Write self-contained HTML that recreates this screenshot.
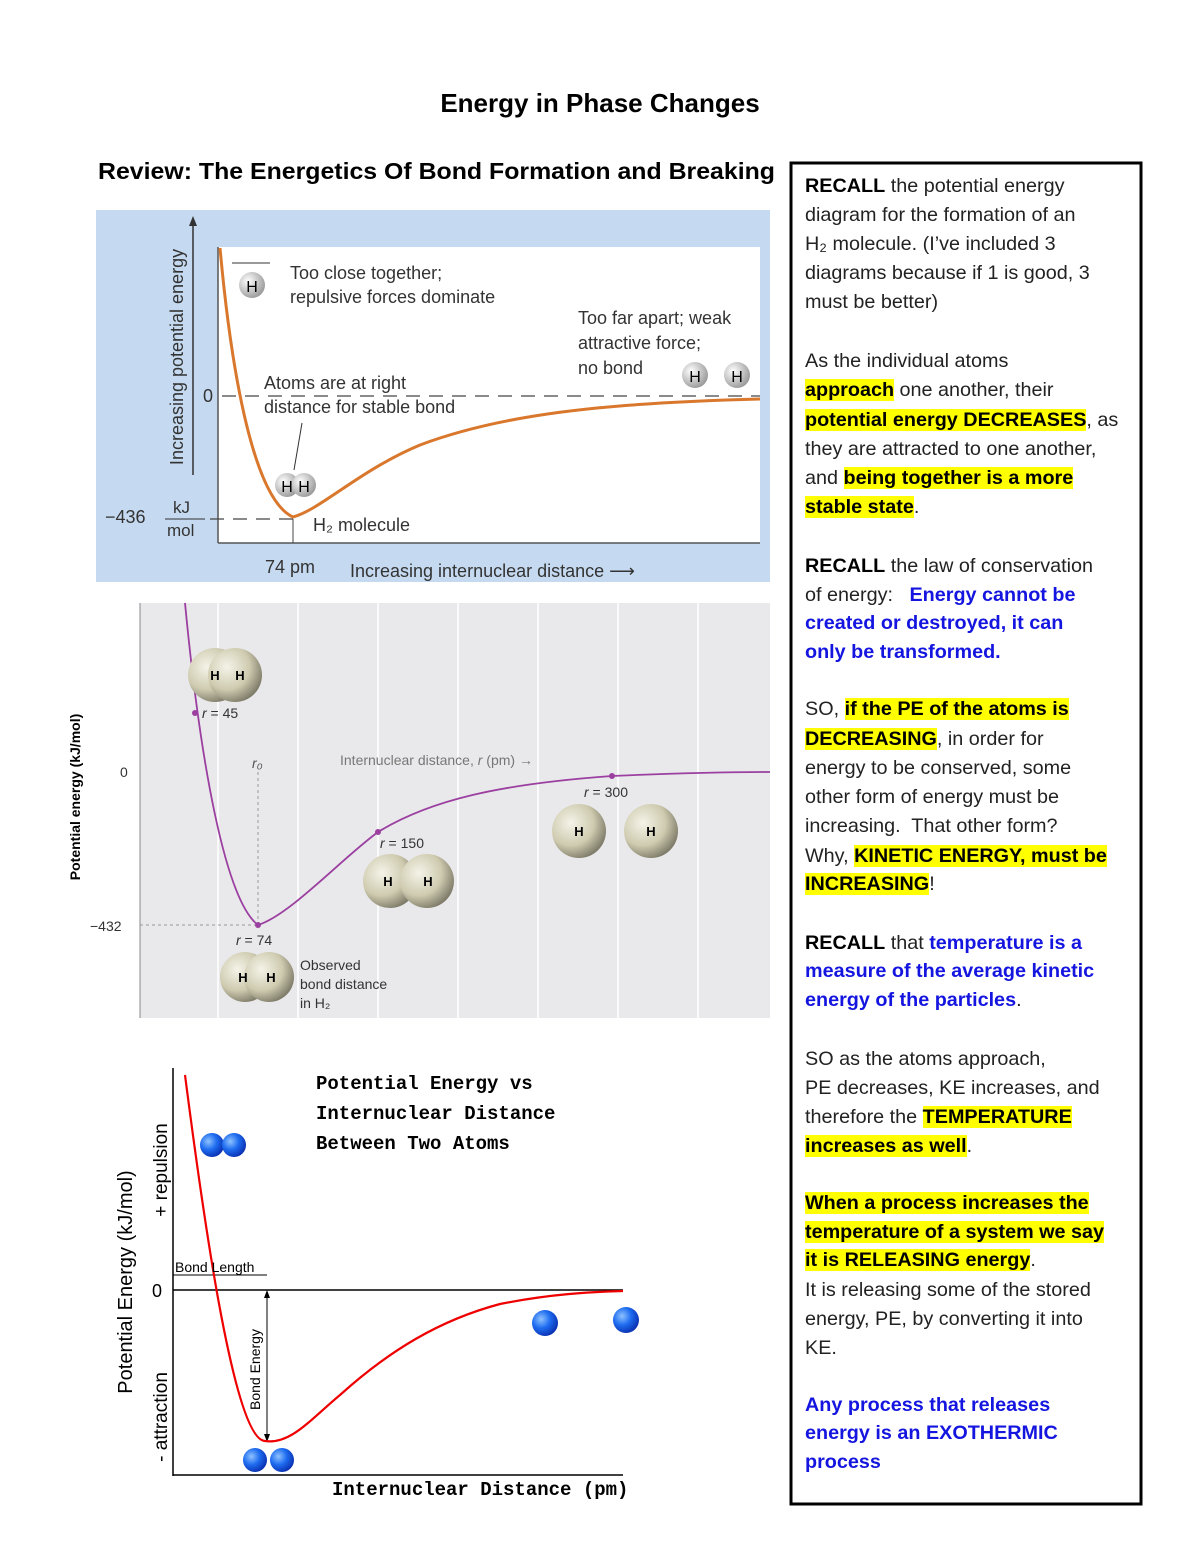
<!DOCTYPE html>
<html><head><meta charset="utf-8"><style>
body{margin:0;width:1200px;height:1553px;background:#fff;position:relative;font-family:"Liberation Sans",sans-serif;overflow:hidden}
.t{position:absolute;left:805px;white-space:nowrap;font-size:19.8px;line-height:24px;color:#222}
.h{background:#ffff00;font-weight:bold;color:#000}
.b{color:#1515e0;font-weight:bold}
.k{font-weight:bold;color:#000}
svg{position:absolute;left:0;top:0}
</style></head><body>
<svg width="1200" height="1553" viewBox="0 0 1200 1553" font-family="Liberation Sans, sans-serif">
<defs>
<radialGradient id="g1" cx="35%" cy="35%" r="70%"><stop offset="0" stop-color="#f4f3e8"/><stop offset="0.6" stop-color="#cfcbb0"/><stop offset="1" stop-color="#7d7a68"/></radialGradient>
<radialGradient id="g2" cx="35%" cy="35%" r="70%"><stop offset="0" stop-color="#8fc3ff"/><stop offset="0.5" stop-color="#1e6cf0"/><stop offset="1" stop-color="#0a2fb0"/></radialGradient>
<radialGradient id="g3" cx="35%" cy="35%" r="70%"><stop offset="0" stop-color="#fff"/><stop offset="1" stop-color="#999"/></radialGradient>
</defs>
<text x="600" y="112" text-anchor="middle" font-size="26" font-weight="bold">Energy in Phase Changes</text>
<text x="98" y="179" font-size="23.5" font-weight="bold" textLength="677" lengthAdjust="spacingAndGlyphs">Review: The Energetics Of Bond Formation and Breaking</text>
<rect x="791" y="163" width="350" height="1341" fill="none" stroke="#000" stroke-width="3"/>
<!-- diagram 1 -->
<rect x="96" y="210" width="674" height="372" fill="#c5daf0"/>
<rect x="218" y="247" width="542" height="296" fill="#fff"/>
<line x1="218" y1="247" x2="218" y2="543" stroke="#555" stroke-width="1.5"/>
<line x1="218" y1="543" x2="760" y2="543" stroke="#555" stroke-width="1.5"/>
<line x1="193" y1="475" x2="193" y2="222" stroke="#333" stroke-width="1.5"/>
<polygon points="193,216 189,226 197,226" fill="#333"/>
<text transform="translate(183,357) rotate(-90)" text-anchor="middle" font-size="18" fill="#333">Increasing potential energy</text>
<text x="203" y="402" font-size="18" fill="#333">0</text>
<text x="105" y="523" font-size="18" fill="#333">−436</text>
<text x="173" y="513" font-size="17" fill="#333">kJ</text>
<line x1="165" y1="519" x2="205" y2="519" stroke="#333"/>
<text x="167" y="536" font-size="17" fill="#333">mol</text>
<line x1="222" y1="396" x2="760" y2="396" stroke="#444" stroke-dasharray="14,9" stroke-width="1.3"/>
<line x1="210" y1="519" x2="293" y2="519" stroke="#444" stroke-dasharray="14,9" stroke-width="1.3"/>
<line x1="293" y1="519" x2="293" y2="543" stroke="#444"/>
<path d="M220,248 C232,380 255,500 293,517 C320,510 360,470 420,445 C500,415 600,403 760,399" fill="none" stroke="#d9782d" stroke-width="3"/>
<text x="290" y="279" font-size="18" fill="#333">Too close together;</text>
<text x="290" y="303" font-size="18" fill="#333">repulsive forces dominate</text>
<text x="578" y="324" font-size="18" fill="#333">Too far apart; weak</text>
<text x="578" y="349" font-size="18" fill="#333">attractive force;</text>
<text x="578" y="374" font-size="18" fill="#333">no bond</text>
<text x="264" y="389" font-size="18" fill="#333">Atoms are at right</text>
<text x="264" y="413" font-size="18" fill="#333">distance for stable bond</text>
<line x1="302" y1="423" x2="294" y2="470" stroke="#333"/>
<text x="313" y="531" font-size="18" fill="#333">H₂ molecule</text>
<text x="265" y="573" font-size="18" fill="#333">74 pm</text>
<text x="350" y="577" font-size="18" fill="#333">Increasing internuclear distance ⟶</text>
<line x1="232" y1="263" x2="270" y2="263" stroke="#333"/>
<circle cx="252" cy="285" r="13" fill="url(#g3)"/><text x="252" y="292" text-anchor="middle" font-size="16">H</text>
<circle cx="287" cy="485" r="12" fill="url(#g3)"/><circle cx="304" cy="485" r="12" fill="url(#g3)"/>
<text x="287" y="492" text-anchor="middle" font-size="16">H</text><text x="304" y="492" text-anchor="middle" font-size="16">H</text>
<circle cx="695" cy="375" r="13" fill="url(#g3)"/><text x="695" y="382" text-anchor="middle" font-size="16">H</text>
<circle cx="737" cy="375" r="13" fill="url(#g3)"/><text x="737" y="382" text-anchor="middle" font-size="16">H</text>
<!-- diagram 2 -->
<rect x="140" y="603" width="630" height="415" fill="#e9e9eb"/>
<g stroke="#fff" stroke-width="1.5"><line x1="218" y1="603" x2="218" y2="1018"/><line x1="298" y1="603" x2="298" y2="1018"/><line x1="378" y1="603" x2="378" y2="1018"/><line x1="458" y1="603" x2="458" y2="1018"/><line x1="538" y1="603" x2="538" y2="1018"/><line x1="618" y1="603" x2="618" y2="1018"/><line x1="698" y1="603" x2="698" y2="1018"/></g>
<line x1="140" y1="603" x2="140" y2="1018" stroke="#888"/>
<line x1="140" y1="925" x2="258" y2="925" stroke="#999" stroke-dasharray="3,3"/>
<line x1="258" y1="772" x2="258" y2="925" stroke="#999" stroke-dasharray="3,3"/>
<path d="M185,603 C200,760 225,900 258,925 C290,915 340,860 378,832 C430,800 500,784 612,776 C680,773 730,772 770,772" fill="none" stroke="#9b3fa0" stroke-width="1.8"/>
<circle cx="195" cy="713" r="3" fill="#9b3fa0"/><circle cx="258" cy="925" r="3" fill="#9b3fa0"/><circle cx="378" cy="832" r="3" fill="#9b3fa0"/><circle cx="612" cy="776" r="3" fill="#9b3fa0"/>
<text transform="translate(80,797) rotate(-90)" text-anchor="middle" font-size="14" font-weight="bold">Potential energy (kJ/mol)</text>
<text x="120" y="777" font-size="14" fill="#333">0</text>
<text x="90" y="931" font-size="14" fill="#333">−432</text>
<text x="340" y="765" font-size="14" fill="#777">Internuclear distance, <tspan font-style="italic">r</tspan> (pm) →</text>
<text x="252" y="768" font-size="14" font-style="italic" fill="#555">r₀</text>
<text x="202" y="718" font-size="14" fill="#333"><tspan font-style="italic">r</tspan> = 45</text>
<text x="380" y="848" font-size="14" fill="#333"><tspan font-style="italic">r</tspan> = 150</text>
<text x="584" y="797" font-size="14" fill="#333"><tspan font-style="italic">r</tspan> = 300</text>
<text x="236" y="945" font-size="14" fill="#333"><tspan font-style="italic">r</tspan> = 74</text>
<text x="300" y="970" font-size="14" fill="#333">Observed</text>
<text x="300" y="989" font-size="14" fill="#333">bond distance</text>
<text x="300" y="1008" font-size="14" fill="#333">in H₂</text>
<g font-size="13" font-weight="bold" text-anchor="middle">
<circle cx="215" cy="675" r="27" fill="url(#g1)"/><circle cx="235" cy="675" r="27" fill="url(#g1)"/><text x="215" y="680">H</text><text x="240" y="680">H</text>
<circle cx="390" cy="881" r="27" fill="url(#g1)"/><circle cx="427" cy="881" r="27" fill="url(#g1)"/><text x="388" y="886">H</text><text x="428" y="886">H</text>
<circle cx="579" cy="831" r="27" fill="url(#g1)"/><text x="579" y="836">H</text>
<circle cx="651" cy="831" r="27" fill="url(#g1)"/><text x="651" y="836">H</text>
<circle cx="245" cy="977" r="25" fill="url(#g1)"/><circle cx="269" cy="977" r="25" fill="url(#g1)"/><text x="243" y="982">H</text><text x="271" y="982">H</text>
</g>
<!-- diagram 3 -->
<line x1="173" y1="1068" x2="173" y2="1476" stroke="#000" stroke-width="1.5"/>
<line x1="173" y1="1475" x2="623" y2="1475" stroke="#000" stroke-width="1.5"/>
<line x1="173" y1="1290" x2="623" y2="1290" stroke="#000" stroke-width="1.5"/>
<line x1="173" y1="1275" x2="267" y2="1275" stroke="#000"/>
<line x1="267" y1="1292" x2="267" y2="1440" stroke="#000"/>
<polygon points="267,1290 264,1298 270,1298" fill="#000"/><polygon points="267,1442 264,1434 270,1434" fill="#000"/>
<path d="M185,1075 C205,1230 235,1440 265,1441 C290,1445 310,1420 340,1395 C390,1350 440,1320 500,1304 C550,1294 590,1292 623,1291" fill="none" stroke="#e00" stroke-width="2.2"/>
<text x="175" y="1272" font-size="14">Bond Length</text>
<text transform="translate(260,1410) rotate(-90)" font-size="14">Bond Energy</text>
<text x="152" y="1297" font-size="18">0</text>
<text transform="translate(132,1282) rotate(-90)" text-anchor="middle" font-size="20">Potential Energy (kJ/mol)</text>
<text transform="translate(167,1170) rotate(-90)" text-anchor="middle" font-size="19">+ repulsion</text>
<text transform="translate(167,1417) rotate(-90)" text-anchor="middle" font-size="19">- attraction</text>
<g font-family="Liberation Mono, monospace" font-size="19" font-weight="bold">
<text x="316" y="1089">Potential Energy vs</text>
<text x="316" y="1119">Internuclear Distance</text>
<text x="316" y="1149">Between Two Atoms</text>
<text x="332" y="1495">Internuclear Distance (pm)</text>
</g>
<circle cx="212" cy="1145" r="12" fill="url(#g2)"/><circle cx="234" cy="1145" r="12" fill="url(#g2)"/>
<circle cx="255" cy="1460" r="12" fill="url(#g2)"/><circle cx="282" cy="1460" r="12" fill="url(#g2)"/>
<circle cx="545" cy="1323" r="13" fill="url(#g2)"/><circle cx="626" cy="1320" r="13" fill="url(#g2)"/>
</svg>
<div class="t" style="top:174px"><span class="k">RECALL</span> the potential energy</div>
<div class="t" style="top:203px">diagram for the formation of an</div>
<div class="t" style="top:232px">H₂ molecule. (I’ve included 3</div>
<div class="t" style="top:261px">diagrams because if 1 is good, 3</div>
<div class="t" style="top:290px">must be better)</div>
<div class="t" style="top:349px">As the individual atoms</div>
<div class="t" style="top:378px"><span class="h">approach</span> one another, their</div>
<div class="t" style="top:408px"><span class="h">potential energy DECREASES</span>, as</div>
<div class="t" style="top:437px">they are attracted to one another,</div>
<div class="t" style="top:466px">and <span class="h">being together is a more</span></div>
<div class="t" style="top:495px"><span class="h">stable state</span>.</div>
<div class="t" style="top:554px"><span class="k">RECALL</span> the law of conservation</div>
<div class="t" style="top:583px">of energy:&nbsp;&nbsp; <span class="b">Energy cannot be</span></div>
<div class="t" style="top:611px"><span class="b">created or destroyed, it can</span></div>
<div class="t" style="top:640px"><span class="b">only be transformed.</span></div>
<div class="t" style="top:697px">SO, <span class="h">if the PE of the atoms is</span></div>
<div class="t" style="top:727px"><span class="h">DECREASING</span>, in order for</div>
<div class="t" style="top:756px">energy to be conserved, some</div>
<div class="t" style="top:785px">other form of energy must be</div>
<div class="t" style="top:814px">increasing.&nbsp; That other form?</div>
<div class="t" style="top:844px">Why, <span class="h">KINETIC ENERGY, must be</span></div>
<div class="t" style="top:872px"><span class="h">INCREASING</span>!</div>
<div class="t" style="top:931px"><span class="k">RECALL</span> that <span class="b">temperature is a</span></div>
<div class="t" style="top:959px"><span class="b">measure of the average kinetic</span></div>
<div class="t" style="top:988px"><span class="b">energy of the particles</span>.</div>
<div class="t" style="top:1047px">SO as the atoms approach,</div>
<div class="t" style="top:1076px">PE decreases, KE increases, and</div>
<div class="t" style="top:1105px">therefore the <span class="h">TEMPERATURE</span></div>
<div class="t" style="top:1134px"><span class="h">increases as well</span>.</div>
<div class="t" style="top:1191px"><span class="h">When a process increases the</span></div>
<div class="t" style="top:1220px"><span class="h">temperature of a system we say</span></div>
<div class="t" style="top:1248px"><span class="h">it is RELEASING energy</span>.</div>
<div class="t" style="top:1278px">It is releasing some of the stored</div>
<div class="t" style="top:1307px">energy, PE, by converting it into</div>
<div class="t" style="top:1336px">KE.</div>
<div class="t" style="top:1393px"><span class="b">Any process that releases</span></div>
<div class="t" style="top:1421px"><span class="b">energy is an EXOTHERMIC</span></div>
<div class="t" style="top:1450px"><span class="b">process</span></div>
</body></html>
